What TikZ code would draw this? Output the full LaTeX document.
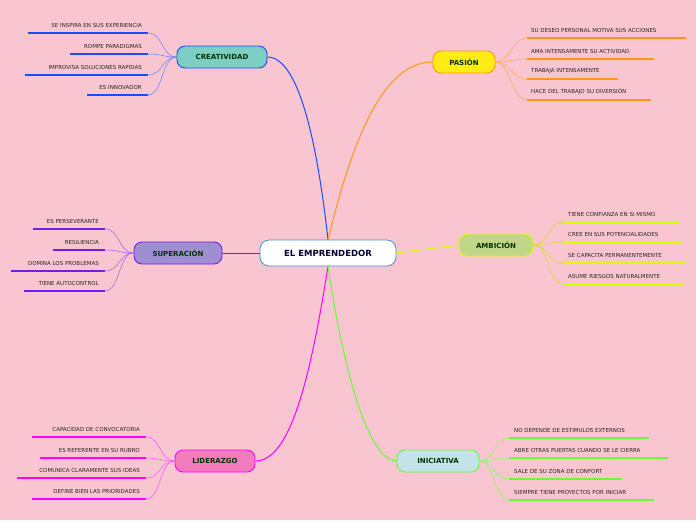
\documentclass[tikz,border=0pt]{standalone}
\usepackage{fontspec}
\setmainfont{DejaVu Sans}
\definecolor{bg}{HTML}{F9C5D0}
\definecolor{creF}{RGB}{125,207,196}
\definecolor{creD}{RGB}{26,76,255}
\definecolor{pasF}{RGB}{255,236,20}
\definecolor{pasD}{RGB}{255,150,20}
\definecolor{ambF}{RGB}{194,214,138}
\definecolor{ambD}{RGB}{215,255,0}
\definecolor{supF}{RGB}{160,143,208}
\definecolor{supD}{RGB}{110,30,230}
\definecolor{lidF}{RGB}{244,124,190}
\definecolor{lidD}{RGB}{255,0,255}
\definecolor{iniF}{RGB}{194,227,232}
\definecolor{iniD}{RGB}{100,255,50}
\definecolor{cenD}{RGB}{51,153,204}
\begin{document}
\begin{tikzpicture}[x=1pt,y=-1pt,
  br/.style={rounded corners=8pt,minimum height=22pt,line width=0.9pt,font=\fontsize{7}{8}\selectfont\bfseries,text=black!80!green},
  lf/.style={font=\fontsize{5.5}{6}\selectfont,text=black!85,inner sep=0pt},
  ul/.style={line width=1.4pt},
  cn/.style={line width=0.5pt}]
\fill[bg] (0,0) rectangle (696,520);
\useasboundingbox (0,0) rectangle (696,520);
\node[draw=cenD,fill=white,rounded corners=9pt,minimum width=136pt,minimum height=26pt,line width=0.8pt,font=\fontsize{8.5}{9}\selectfont\bfseries,text=black!80!blue] (c) at (328,253) {EL EMPRENDEDOR};
\node[br,draw=creD,fill=creF,minimum width=90pt] (cre) at (222,57) {CREATIVIDAD};
\node[br,draw=pasD,fill=pasF,minimum width=62pt] (pas) at (464,62) {PASIÓN};
\node[br,draw=ambD,fill=ambF,minimum width=74pt] (amb) at (496,245) {AMBICIÓN};
\node[br,draw=supD,fill=supF,minimum width=88pt] (sup) at (178,253) {SUPERACIÓN};
\node[br,draw=lidD,fill=lidF,minimum width=80pt] (lid) at (215,461) {LIDERAZGO};
\node[br,draw=iniD,fill=iniF,minimum width=82pt] (ini) at (438,461) {INICIATIVA};
\draw[creD,line width=1pt] (c.north) .. controls (318,150) and (300,57) .. (cre.east);
\draw[pasD,line width=1pt] (c.north) .. controls (350,150) and (380,62) .. (pas.west);
\draw[ambD,line width=1pt] (c.east) -- (amb.west);
\draw[supD,line width=0.8pt] (c.west) -- (sup.east);
\draw[lidD,line width=1pt] (c.south) .. controls (310,380) and (290,461) .. (lid.east);
\draw[iniD,line width=1pt] (c.south) .. controls (345,380) and (370,461) .. (ini.west);
\foreach \t/\uy/\us [count=\i] in {SE INSPIRA EN SUS EXPERIENCIA/33/28,ROMPE PARADIGMAS/54/70,IMPROVISA SOLUCIONES RAPIDAS/75/25,ES INNOVADOR/95/87}{
  \coordinate (cre\i) at (148,\uy);
  \node[lf,anchor=south east] at (142,\uy-5) {\t};
  \draw[ul,creD] (\us,\uy) -- (cre\i);
  \draw[cn,creD!70] (cre.west) .. controls ([xshift=-15]cre.west) and (163,\uy) .. (cre\i);}
\foreach \t/\uy/\us [count=\i] in {ES PERSEVERANTE/229/33,RESILIENCIA/250/53,DOMINA LOS PROBLEMAS/271/11,TIENE AUTOCONTROL/291/24}{
  \coordinate (sup\i) at (105,\uy);
  \node[lf,anchor=south east] at (99,\uy-5) {\t};
  \draw[ul,supD] (\us,\uy) -- (sup\i);
  \draw[cn,supD!70] (sup.west) .. controls ([xshift=-15]sup.west) and (120,\uy) .. (sup\i);}
\foreach \t/\uy/\us [count=\i] in {CAPACIDAD DE CONVOCATORIA/437/32,ES REFERENTE EN SU RUBRO/458/40,COMUNICA CLARAMENTE SUS IDEAS/478/17,DEFINE BIEN LAS PRIORIDADES/499/32}{
  \coordinate (lid\i) at (146,\uy);
  \node[lf,anchor=south east] at (140,\uy-5) {\t};
  \draw[ul,lidD] (\us,\uy) -- (lid\i);
  \draw[cn,lidD!70] (lid.west) .. controls ([xshift=-15]lid.west) and (161,\uy) .. (lid\i);}
\foreach \t/\uy/\ue [count=\i] in {SU DESEO PERSONAL MOTIVA SUS ACCIONES/38/686,AMA INTENSAMENTE SU ACTIVIDAD/59/654,TRABAJA INTENSAMENTE/79/618,HACE DEL TRABAJO SU DIVERSIÓN/100/651}{
  \coordinate (pas\i) at (527,\uy);
  \node[lf,anchor=south west] at (531,\uy-5) {\t};
  \draw[ul,pasD] (pas\i) -- (\ue,\uy);
  \draw[cn,pasD!80] (pas.east) .. controls ([xshift=15]pas.east) and (512,\uy) .. (pas\i);}
\foreach \t/\uy/\ue [count=\i] in {TIENE CONFIANZA EN SI MISMO/222/680,CREE EN SUS POTENCIALIDADES/242/682,SE CAPACITA PERMANENTEMENTE/263/686,ASUME RIESGOS NATURALMENTE/284/684}{
  \coordinate (amb\i) at (563,\uy);
  \node[lf,anchor=south west] at (568,\uy-5) {\t};
  \draw[ul,ambD] (amb\i) -- (\ue,\uy);
  \draw[cn,ambD!80!gray] (amb.east) .. controls ([xshift=15]amb.east) and (548,\uy) .. (amb\i);}
\foreach \t/\uy/\ue [count=\i] in {NO DEPENDE DE ESTIMULOS EXTERNOS/438/649,ABRE OTRAS PUERTAS CUANDO SE LE CIERRA/458/668,SALE DE SU ZONA DE CONFORT/479/622,SIEMPRE TIENE PROYECTOS POR INICIAR/500/654}{
  \coordinate (ini\i) at (509,\uy);
  \node[lf,anchor=south west] at (514,\uy-5) {\t};
  \draw[ul,iniD] (ini\i) -- (\ue,\uy);
  \draw[cn,iniD!80] (ini.east) .. controls ([xshift=15]ini.east) and (494,\uy) .. (ini\i);}
\end{tikzpicture}
\end{document}
